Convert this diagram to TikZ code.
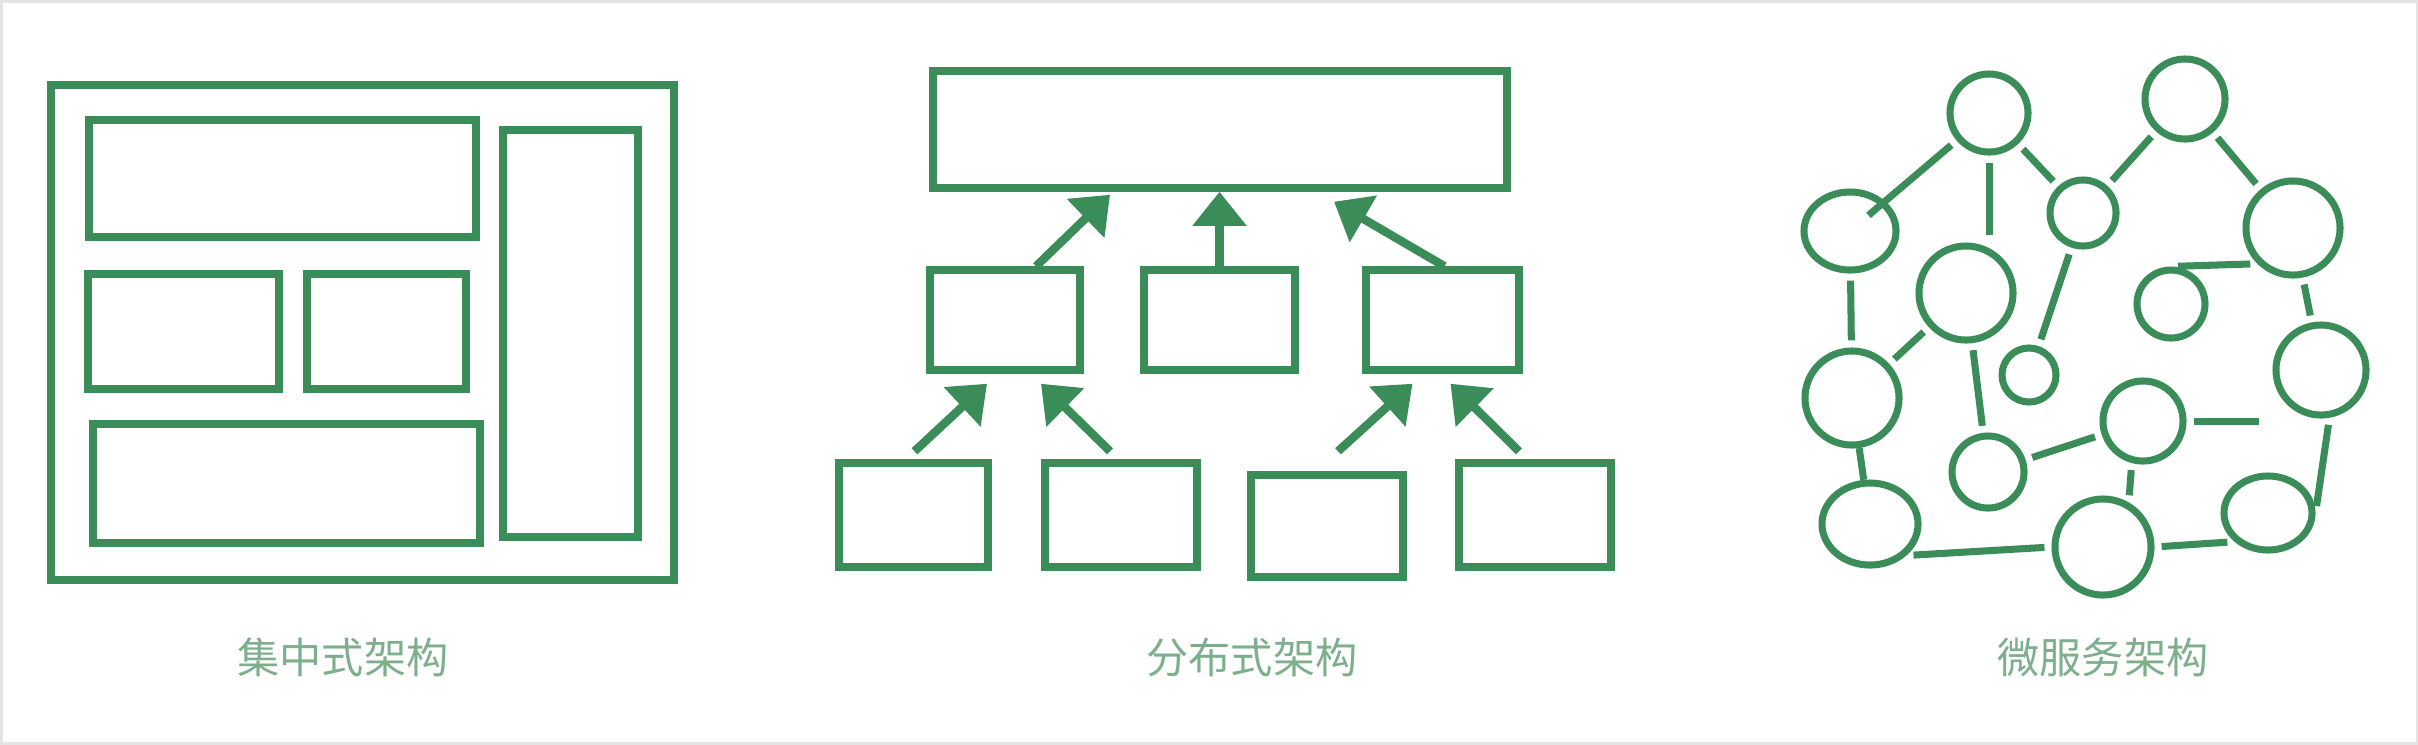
\documentclass[tikz,border=0pt]{standalone}
\usepackage{fontspec}
\usepackage{xcolor}
\usepackage{tikz}
\usetikzlibrary{positioning}
\usetikzlibrary{shapes.geometric}
\usetikzlibrary{calc}
\usetikzlibrary{arrows.meta}
\newfontfamily\cjk{Noto Sans CJK SC}
\definecolor{archgreen}{HTML}{3A8C58}
\definecolor{capgreen}{HTML}{7DAF8C}
\definecolor{framegray}{HTML}{E4E4E4}

\begin{document}
\begin{tikzpicture}
  [
    x=0.01cm, y=-0.01cm,
    box/.style={
       draw=archgreen,
       line width=2.1pt,
       rectangle,
       inner sep=0pt
    },
    svc/.style={
       draw=archgreen,
       line width=2pt,
       circle,
       inner sep=0pt
    },
    oval/.style={
       svc,
       ellipse
    },
    link/.style={
       draw=archgreen,
       line width=2pt,
       shorten >=2pt,
       shorten <=2pt
    },
    up/.style={
       draw=archgreen,
       line width=2.4pt,
       -{Triangle[length=0.34cm,width=0.52cm]}
    },
    caption/.style={
       text=capgreen,
       font=\cjk\fontsize{12}{14}\selectfont
    }
  ]
  \useasboundingbox (0,0) rectangle (2418,744);
  \draw [framegray, line width=0.05cm] (0,0) rectangle (2418,744);

  % centralised
  \node (outer) at ( 362.5,332.5) [box, minimum width=6.23cm, minimum height=4.95cm] {};
  \node (wide)  at ( 282.5,178.5) [box, minimum width=3.87cm, minimum height=1.17cm] {};
  \node (midl)  at ( 183.5,331.5) [box, minimum width=1.91cm, minimum height=1.15cm] {};
  \node (midr)  at ( 386.5,331.5) [box, minimum width=1.59cm, minimum height=1.15cm] {};
  \node (low)   at ( 286.5,483.5) [box, minimum width=3.87cm, minimum height=1.19cm] {};
  \node (tall)  at ( 570.5,333.5) [box, minimum width=1.35cm, minimum height=4.07cm] {};
  \node (capA)  at ( 343,657) [caption] {集中式架构};

  % distributed
  \node (top) at (1220,129.5) [box, minimum width=5.74cm, minimum height=1.17cm] {};
  \node (m1)  at (1005,320)   [box, minimum width=1.50cm, minimum height=1.00cm] {};
  \node (m2)  at (1219.5,320) [box, minimum width=1.51cm, minimum height=1.00cm] {};
  \node (m3)  at (1442.5,320) [box, minimum width=1.53cm, minimum height=1.00cm] {};
  \node (b1)  at ( 913.5,515) [box, minimum width=1.49cm, minimum height=1.04cm] {};
  \node (b2)  at (1121,515)   [box, minimum width=1.52cm, minimum height=1.04cm] {};
  \node (b3)  at (1327,526)   [box, minimum width=1.52cm, minimum height=1.02cm] {};
  \node (b4)  at (1535,515)   [box, minimum width=1.52cm, minimum height=1.04cm] {};
  \node (capB) at (1252,657) [caption] {分布式架构};

  \draw [up] ($(m1.north)+(31,0)$)  -- ($(top.south)+(-110,3)$);
  \draw [up] (m2.north)             -- (m2.north |- top.south);
  \draw [up] ($(m3.north)+(2,0)$)   -- ($(top.south)+(114,10)$);
  \draw [up] ($(b1.north)+(1,-8)$)  -- ($(m1.south)+(-18,10)$);
  \draw [up] ($(b2.north)+(-11,-8)$) -- ($(m1.south)+(36,10)$);
  \draw [up] ($(b3.north)+(11,-20)$) -- ($(m3.south)+(-30,10)$);
  \draw [up] ($(b4.north)+(-16,-8)$) -- ($(m3.south)+(8,10)$);

  % microservices
  \node (c1)  at (1989,113) [svc,  minimum size=0.78cm] {};
  \node (c2)  at (2185,99)  [svc,  minimum size=0.80cm] {};
  \node (c3)  at (2083,213) [svc,  minimum size=0.66cm] {};
  \node (c4)  at (1850,231) [oval, minimum width=0.92cm, minimum height=0.78cm] {};
  \node (c5)  at (1966,293) [svc,  minimum size=0.94cm] {};
  \node (c6)  at (2293,228) [svc,  minimum size=0.94cm] {};
  \node (c7)  at (2171,304) [svc,  minimum size=0.68cm] {};
  \node (c8)  at (2029,375) [svc,  minimum size=0.54cm] {};
  \node (c9)  at (2321,370) [svc,  minimum size=0.90cm] {};
  \node (c10) at (1852,398) [svc,  minimum size=0.94cm] {};
  \node (c11) at (1988,472) [svc,  minimum size=0.72cm] {};
  \node (c12) at (2143,421) [svc,  minimum size=0.80cm] {};
  \node (c13) at (1870,524) [oval, minimum width=0.96cm, minimum height=0.82cm] {};
  \node (c14) at (2103,547) [svc,  minimum size=0.96cm] {};
  \node (c15) at (2268,513) [oval, minimum width=0.88cm, minimum height=0.74cm] {};
  \node (capC) at (2103,657) [caption] {微服务架构};

  \draw [link, shorten <=-0.22cm] (c4) -- (c1);
  \draw [link] (c1.south) -- (c1.south |- c5.north);
  \draw [link] (c1) -- (c3);
  \draw [link] (c2) -- (c3);
  \draw [link] (c2) -- (c6);
  \draw [link] (c4) -- (c10);
  \draw [link] (c5) -- (c10);
  \draw [link] (c3) -- (c8);
  \draw [link] (c5) -- (c11);
  \draw [link] (c7.north) -- (c6.south west);
  \draw [link] (c6) -- (c9);
  \draw [link] (c11) -- (c12);
  \draw [link, shorten >=0.13cm] (c12.east) -- (c12.east -| c9.west);
  \draw [link] (c9.-80) -- (c15.east);
  \draw [link, shorten >=0pt, shorten <=0pt] (c10) -- (c13);
  \draw [link] (c13.south east) -- (c14.west);
  \draw [link] (c14.east) -- (c15.south west);
  \draw [link] (c12.-105) -- (c14.60);
\end{tikzpicture}
\end{document}
